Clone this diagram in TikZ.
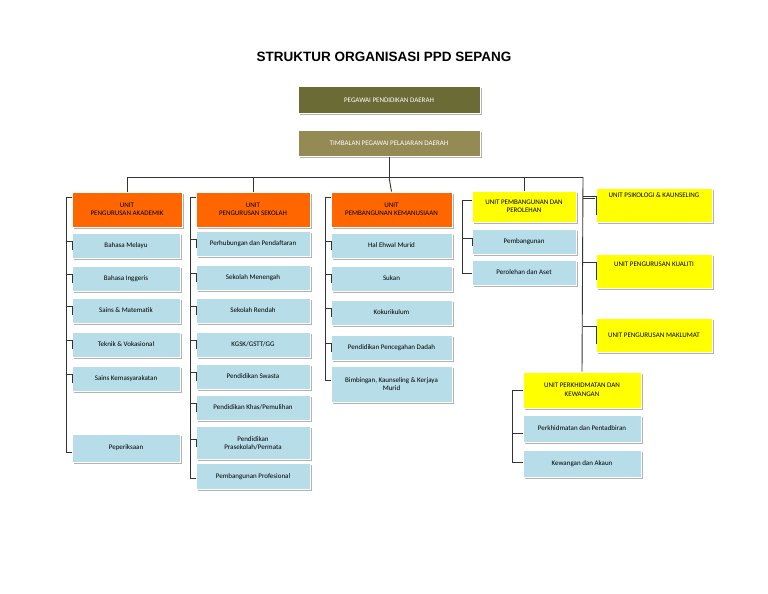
\documentclass[tikz,border=0pt]{standalone}
\usepackage{fontspec}
\setmainfont{Carlito}
\newfontfamily\titlefont{Liberation Sans}
\usetikzlibrary{shadows}
\definecolor{olive1}{HTML}{6B6B36}
\definecolor{tan1}{HTML}{948A54}
\definecolor{orng}{HTML}{FF6600}
\definecolor{lblue}{HTML}{B7DDE8}
\definecolor{yel}{HTML}{FFFF00}
\begin{document}
\begin{tikzpicture}[x=1pt,y=-1pt,
  bx/.style={draw=white, line width=1pt, inner sep=1pt, font=\fontsize{7}{8.5}\selectfont, align=center,
    drop shadow={shadow xshift=1.5pt, shadow yshift=-1.5pt, fill=black!30, opacity=1}},
  blu/.style={bx, fill=lblue},
  org/.style={bx, fill=orng},
  yl/.style={bx, fill=yel},
  ln/.style={draw=black!80, line width=0.9pt}]
\useasboundingbox (0,0) rectangle (768,594);
\node[font=\titlefont\bfseries\fontsize{13.5}{16}\selectfont] (title) at (384,57) {STRUKTUR ORGANISASI PPD SEPANG};
\node[bx, fill=olive1, text=white, minimum width=182, minimum height=27] (ppd) at (389,100) {PEGAWAI PENDIDIKAN DAERAH};
\node[bx, fill=tan1, text=white, minimum width=182, minimum height=26] (tppd) at (389,143) {TIMBALAN PEGAWAI PELAJARAN DAERAH};
% column 1
\node[org, minimum width=110, minimum height=35] (c1) at (127,209.5) {UNIT\\PENGURUSAN AKADEMIK};
\node[blu, minimum width=108, minimum height=25] (c1a) at (126,245.5) {Bahasa Melayu};
\node[blu, minimum width=108, minimum height=25] (c1b) at (126,278.5) {Bahasa Inggeris};
\node[blu, minimum width=108, minimum height=25] (c1c) at (126,310.5) {Sains \& Matematik};
\node[blu, minimum width=108, minimum height=25] (c1d) at (126,344.5) {Teknik \& Vokasional};
\node[blu, minimum width=108, minimum height=25] (c1e) at (126,378.5) {Sains Kemasyarakatan};
\node[blu, minimum width=108, minimum height=28] (c1f) at (126,448) {Peperiksaan};
% column 2
\node[org, minimum width=114, minimum height=35] (c2) at (253,209.5) {UNIT\\PENGURUSAN SEKOLAH};
\node[blu, minimum width=114, minimum height=25] (c2a) at (253,243.5) {Perhubungan dan Pendaftaran};
\node[blu, minimum width=114, minimum height=25] (c2b) at (253,277.5) {Sekolah Menengah};
\node[blu, minimum width=114, minimum height=25] (c2c) at (253,310.5) {Sekolah Rendah};
\node[blu, minimum width=114, minimum height=25] (c2d) at (253,344.5) {KGSK/GSTT/GG};
\node[blu, minimum width=114, minimum height=25] (c2e) at (253,376.5) {Pendidikan Swasta};
\node[blu, minimum width=114, minimum height=25] (c2f) at (253,407.5) {Pendidikan Khas/Pemulihan};
\node[blu, minimum width=114, minimum height=33] (c2g) at (253,443) {Pendidikan\\Prasekolah/Permata};
\node[blu, minimum width=114, minimum height=26] (c2h) at (253,476.5) {Pembangunan Profesional};
% column 3
\node[org, minimum width=121, minimum height=35] (c3) at (391.5,209.5) {UNIT\\PEMBANGUNAN KEMANUSIAAN};
\node[blu, minimum width=121, minimum height=25] (c3a) at (391.5,245.5) {Hal Ehwal Murid};
\node[blu, minimum width=121, minimum height=25] (c3b) at (391.5,278.5) {Sukan};
\node[blu, minimum width=121, minimum height=25] (c3c) at (391.5,312.5) {Kokurikulum};
\node[blu, minimum width=121, minimum height=25] (c3d) at (391.5,347.5) {Pendidikan Pencegahan Dadah};
\node[blu, minimum width=121, minimum height=36] (c3e) at (391.5,384) {Bimbingan, Kaunseling \& Kerjaya\\Murid};
% column 4
\node[yl, minimum width=104, minimum height=31] (c4) at (524,206.5) {UNIT PEMBANGUNAN DAN\\PEROLEHAN};
\node[blu, minimum width=104, minimum height=25] (c4a) at (524,241.5) {Pembangunan};
\node[blu, minimum width=104, minimum height=25] (c4b) at (524,272.5) {Perolehan dan Aset};
% right units
\node[yl, minimum width=116, minimum height=34, anchor=north] (r1) at (654,188) {UNIT PSIKOLOGI \& KAUNSELING\\[12pt]};
\node[yl, minimum width=116, minimum height=34] (r2) at (654,271) {UNIT PENGURUSAN KUALITI\\[6pt]};
\node[yl, minimum width=116, minimum height=34] (r3) at (654,335) {UNIT PENGURUSAN MAKLUMAT};
\node[yl, minimum width=118, minimum height=36] (p) at (582,390) {UNIT PERKHIDMATAN DAN\\KEWANGAN};
\node[blu, minimum width=118, minimum height=27] (pa) at (582,428.5) {Perkhidmatan dan Pentadbiran};
\node[blu, minimum width=118, minimum height=27] (pb) at (582,463.5) {Kewangan dan Akaun};
% connectors
\coordinate (j) at (389,177);
\draw[ln] (tppd.south) -- (j);
\draw[ln] (127,177) -- (583,177);
\draw[ln] (127,177) -- (c1.north);
\draw[ln] (253,177) -- (c2.north);
\draw[ln] (j) -- (c3.north);
\draw[ln] (524,177) -- (c4.north);
\draw[ln] (583,177) -- (p.north);
\foreach \r in {r1,r2,r3} \draw[ln] (583,0 |- \r.west) ++(0,-9) -- ++(13,0) -- ++(0,18);
\draw[ln] (583,198) -- ++(12,0);
% col1 bracket
\draw[ln] (c1.west) ++(0,-12) -- (66,197.5) -- (66,452) -- (c1f.west |- 0,452);
\foreach \n in {c1a,c1b,c1c,c1d,c1e} \draw[ln] (66,0 |- \n.west) ++(0,-4) -- ++(6,0) -- ++(0,8);
\draw[ln] (c2.west) ++(0,-12) -- (190,197.5) -- (190,478) -- (c2h.west |- 0,478);
\foreach \n in {c2a,c2b,c2c,c2d,c2e,c2f,c2g} \draw[ln] (190,0 |- \n.west) ++(0,-4) -- ++(6,0) -- ++(0,8);
\draw[ln] (c3.west) ++(0,-12) -- (325,197.5) -- (325,380) -- ++(6,0);
\foreach \n in {c3a,c3b,c3c,c3d} \draw[ln] (325,0 |- \n.west) ++(0,-4) -- ++(6,0) -- ++(0,8);
\draw[ln] (c4.west) ++(0,-6) -- (462,200.5) -- (462,273) -- (c4b.west |- 0,273);
\draw[ln] (462,238) -- ++(10,0) -- ++(0,8);
\draw[ln] (p.west) -- (512,390) -- (512,462) -- (pb.west |- 0,462);
\draw[ln] (512,433) -- (pa.west |- 0,433);
\end{tikzpicture}
\end{document}
